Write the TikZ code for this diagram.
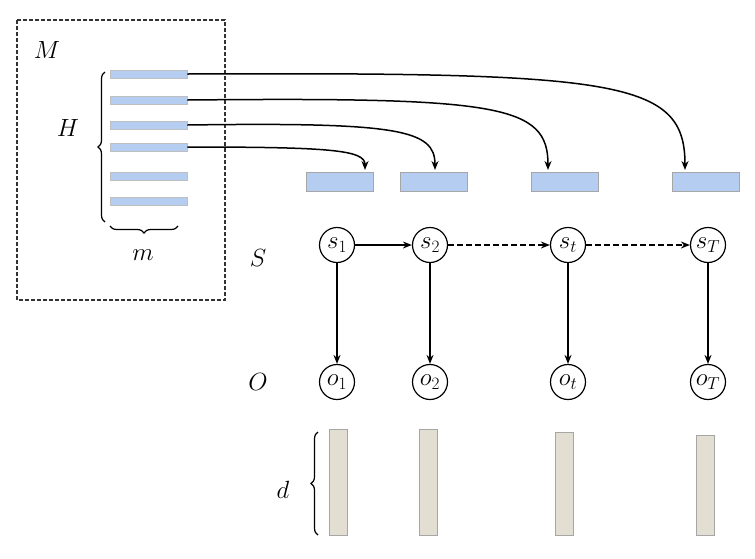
\documentclass[tikz,border=0pt]{standalone}
\usepackage{fontspec}
\usetikzlibrary{decorations.pathreplacing,arrows.meta}
\definecolor{barblue}{HTML}{B4CDF0}
\definecolor{obsc}{HTML}{E2DFD2}
\begin{document}
\begin{tikzpicture}[x=1pt,y=-1pt,line width=1.5pt,
 mem/.style={draw=gray!50,line width=0.8pt,fill=barblue,minimum width=77pt,minimum height=8pt,inner sep=0pt},
 tgt/.style={draw=gray!70,line width=1pt,fill=barblue,minimum width=67pt,minimum height=19pt,inner sep=0pt},
 obs/.style={draw=gray!70,line width=1pt,fill=obsc,minimum width=18pt,inner sep=0pt},
 st/.style={circle,draw,line width=1.2pt,minimum size=35pt,inner sep=0pt,font=\fontsize{26}{30}\selectfont},
 lab/.style={font=\fontsize{25}{30}\selectfont},
 arr/.style={-{Stealth[length=9pt,width=7pt]},line width=1.5pt},
 dsh/.style={dash pattern=on 6pt off 3pt},
 br/.style={decorate,decoration={brace,amplitude=7pt},line width=1.2pt}]
\useasboundingbox (0,0) rectangle (755,558);
\draw[dash pattern=on 4pt off 2pt,line width=1.2pt,gray!40!black] (17,20) rectangle (225,300);
\node[lab] (M) at (47,50) {$M$};
\foreach \i/\y in {1/74,2/100,3/125,4/147,5/176,6/201} \node[mem] (h\i) at (148.5,\y) {};
\draw[br] (105,222) -- (105,72);
\node[lab] (H) at (68,128) {$H$};
\draw[br] (178,226) -- (110,226);
\node[lab] (m) at (143,255) {$m$};
\foreach \i/\x in {1/339.5,2/433.5,3/564.5,4/705.5} \node[tgt] (t\i) at (\x,182) {};
\foreach \i/\x/\l/\k in {1/337/s_1/o_1,2/430/s_2/o_2,3/568/s_t/o_t,4/708/s_T/o_T}{
 \node[st] (s\i) at (\x,245) {$\l$};
 \node[st] (o\i) at (\x,382) {$\k$};}
\node[lab] (S) at (258,258) {$S$};
\node[lab] (O) at (258,382) {$O$};
\node[lab] (d) at (283,490) {$d$};
\node[obs,minimum height=106pt] (b1) at (338,482) {};
\node[obs,minimum height=106pt] (b2) at (428,482) {};
\node[obs,minimum height=103pt] (b3) at (564.5,483.5) {};
\node[obs,minimum height=100pt] (b4) at (705.5,485) {};
\draw[br] (318,535) -- (318,432);
\draw[arr] (s1) -- (s2);
\draw[arr,dsh] (s2) -- (s3);
\draw[arr,dsh] (s3) -- (s4);
\foreach \i in {1,...,4} \draw[arr] (s\i) -- (o\i);
\draw[arr] (h4.east) .. controls (330,147) and (365,150) .. (365,170);
\draw[arr] (h3.east) .. controls (400,122) and (435,130) .. (435,170);
\draw[arr] (h2.east) .. controls (500,97) and (548,105) .. (548,170);
\draw[arr] (h1.east) .. controls (620,72) and (685,80) .. (685,170);
\end{tikzpicture}
\end{document}
